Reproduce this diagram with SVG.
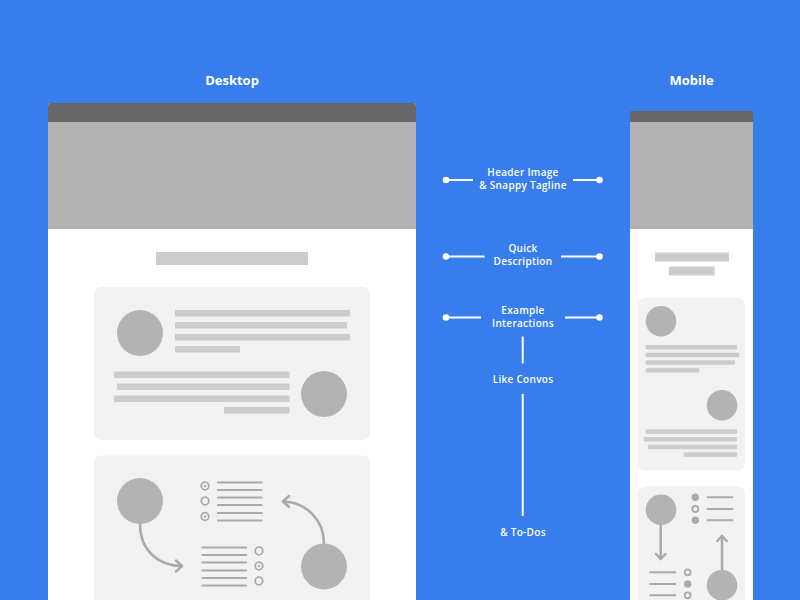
<svg xmlns="http://www.w3.org/2000/svg" width="800" height="600" viewBox="0 0 800 600">
<defs>
<style>
.title{font-family:"Open Sans","Liberation Sans",sans-serif;font-weight:700;font-size:13px;fill:#fff;text-anchor:middle}
.lbl{font-family:"Open Sans","Liberation Sans",sans-serif;font-weight:600;font-size:10px;letter-spacing:0.3px;fill:#fff;text-anchor:middle}
.bar{fill:#cccccc}
.card{fill:#f2f2f2}
.av{fill:#b3b3b3}
.ln{stroke:#aaaaaa;stroke-width:2;fill:none}
.ring{fill:none;stroke:#aaaaaa;stroke-width:1.8}
.dot{fill:#aaaaaa}
.arr{stroke:#aaaaaa;stroke-width:2.5;fill:none;stroke-linecap:round;stroke-linejoin:round}
.con{stroke:#fff;stroke-width:2;fill:none}
.end{fill:#fff}
</style>
</defs>
<rect width="800" height="600" fill="#377dec"/>

<g id="desktop">
<text class="title" x="232" y="85">Desktop</text>
<path d="M48,106 a3,3 0 0 1 3,-3 h362 a3,3 0 0 1 3,3 V600 H48 Z" fill="#ffffff"/>
<path d="M48,106 a3,3 0 0 1 3,-3 h362 a3,3 0 0 1 3,3 V122 H48 Z" fill="#666666"/>
<rect x="48" y="122" width="368" height="107" fill="#b3b3b3"/>
<rect class="bar" x="156" y="252" width="152" height="13"/>
</g>

<g id="desktop-card-convos">
<rect class="card" x="94" y="287" width="276" height="153" rx="7"/>
<circle class="av" cx="140" cy="333" r="23"/>
<rect class="bar" x="175" y="310" width="175" height="6.5"/>
<rect class="bar" x="175" y="322" width="172" height="6.5"/>
<rect class="bar" x="175" y="334" width="175" height="6.5"/>
<rect class="bar" x="175" y="346" width="65" height="6.5"/>
<rect class="bar" x="114" y="371.5" width="175.5" height="6.5"/>
<rect class="bar" x="117" y="383.5" width="172.5" height="6.5"/>
<rect class="bar" x="114" y="395.5" width="175.5" height="6.5"/>
<rect class="bar" x="224" y="407" width="65.5" height="6.5"/>
<circle class="av" cx="324" cy="394" r="23"/>
</g>

<g id="desktop-card-todos">
<rect class="card" x="94" y="455.5" width="276" height="160" rx="7"/>
<circle class="av" cx="140" cy="501" r="23"/>
<path class="arr" d="M140,524 C140,550 158,566 182,566"/>
<path class="arr" d="M176,560.5 L182,566 L176,571.5"/>
<circle class="ring" cx="205" cy="486" r="3.8"/><circle class="dot" cx="205" cy="486" r="1.2"/>
<circle class="ring" cx="205" cy="501" r="3.8"/>
<circle class="ring" cx="205" cy="516.5" r="3.8"/><circle class="dot" cx="205" cy="516.5" r="1.2"/>
<path class="ln" d="M217,482.5H262.5M217,490H262.5M217,497.5H262.5M217,505H262.5M217,513H262.5M217,520.5H262.5"/>
<path class="ln" d="M201.5,547.5H247M201.5,555H247M201.5,562.5H247M201.5,570.5H247M201.5,578H247M201.5,585.5H247"/>
<circle class="ring" cx="259" cy="551" r="3.8"/>
<circle class="ring" cx="259" cy="566" r="3.8"/><circle class="dot" cx="259" cy="566" r="1.2"/>
<circle class="ring" cx="259" cy="581" r="3.8"/>
<path class="arr" d="M324,543.5 C324,520 306,502 283,501.5"/>
<path class="arr" d="M289,496 L283,501.5 L289,507"/>
<circle class="av" cx="324" cy="566.5" r="23"/>
</g>

<g id="mobile">
<text class="title" x="691.5" y="85">Mobile</text>
<rect x="630" y="111" width="123" height="489" fill="#ffffff"/>
<rect x="630" y="111" width="123" height="11.5" fill="#666666"/>
<rect x="630" y="122.5" width="123" height="106.5" fill="#b3b3b3"/>
<rect class="bar" x="655" y="252.5" width="74" height="9"/>
<rect class="bar" x="669" y="266.5" width="45.5" height="9"/>
</g>

<g id="mobile-card-convos">
<rect class="card" x="638" y="298" width="107" height="172.5" rx="7"/>
<circle class="av" cx="661" cy="321.3" r="15.3"/>
<rect class="bar" x="645.7" y="345" width="91.3" height="4.5"/>
<rect class="bar" x="645.7" y="352.7" width="93.6" height="4.5"/>
<rect class="bar" x="645.7" y="360.3" width="89.3" height="4.5"/>
<rect class="bar" x="645.7" y="368" width="53.6" height="4.5"/>
<circle class="av" cx="722" cy="405.3" r="15.3"/>
<rect class="bar" x="645.7" y="429.3" width="91.3" height="4.5"/>
<rect class="bar" x="643.7" y="437" width="93.3" height="4.5"/>
<rect class="bar" x="648" y="444.7" width="89" height="4.5"/>
<rect class="bar" x="683.7" y="452.3" width="53.3" height="4.5"/>
</g>

<g id="mobile-card-todos">
<rect class="card" x="638" y="486.3" width="107" height="130" rx="7"/>
<circle class="av" cx="661" cy="509.7" r="15.3"/>
<path class="arr" d="M660.7,525 V559"/>
<path class="arr" d="M656,554 L660.7,559 L665.4,554"/>
<circle class="dot" cx="695.3" cy="497.3" r="3.7"/>
<circle class="ring" cx="695.3" cy="509" r="3"/>
<circle class="dot" cx="695.3" cy="520.3" r="3.7"/>
<path class="ln" d="M706.7,497.3H733.3M706.7,509H733.3M706.7,520.3H733.3"/>
<path class="arr" d="M722,570 V536"/>
<path class="arr" d="M717.3,541 L722,536 L726.7,541"/>
<circle class="av" cx="722" cy="585.3" r="15.3"/>
<path class="ln" d="M649.3,572.3H676M649.3,584H676M649.3,595.3H676"/>
<circle class="ring" cx="687.7" cy="572.3" r="3"/>
<circle class="dot" cx="687.7" cy="584" r="3.7"/>
<circle class="ring" cx="687.7" cy="595.3" r="3"/>
</g>

<g id="connectors">
<path class="con" d="M446,180H473M573,180H599.5"/>
<path class="con" d="M446,256.5H484.5M561,256.5H599.5"/>
<path class="con" d="M446,317.5H481M565,317.5H599.5"/>
<path class="con" d="M522.7,336.5V363.5M522.7,394V516"/>
<circle class="end" cx="446" cy="180" r="3.3"/><circle class="end" cx="599.5" cy="180" r="3.3"/>
<circle class="end" cx="446" cy="256.5" r="3.3"/><circle class="end" cx="599.5" cy="256.5" r="3.3"/>
<circle class="end" cx="446" cy="317.5" r="3.3"/><circle class="end" cx="599.5" cy="317.5" r="3.3"/>
</g>

<g id="label-header">
<text class="lbl" x="523" y="176">Header Image</text>
<text class="lbl" x="523" y="188.8">&amp; Snappy Tagline</text>
</g>
<g id="label-description">
<text class="lbl" x="523" y="252.4">Quick</text>
<text class="lbl" x="523" y="265.2">Description</text>
</g>
<g id="label-interactions">
<text class="lbl" x="523" y="314">Example</text>
<text class="lbl" x="523" y="326.8">Interactions</text>
</g>
<g id="label-convos">
<text class="lbl" x="523" y="383">Like Convos</text>
</g>
<g id="label-todos">
<text class="lbl" x="523" y="536">&amp; To-Dos</text>
</g>
</svg>
